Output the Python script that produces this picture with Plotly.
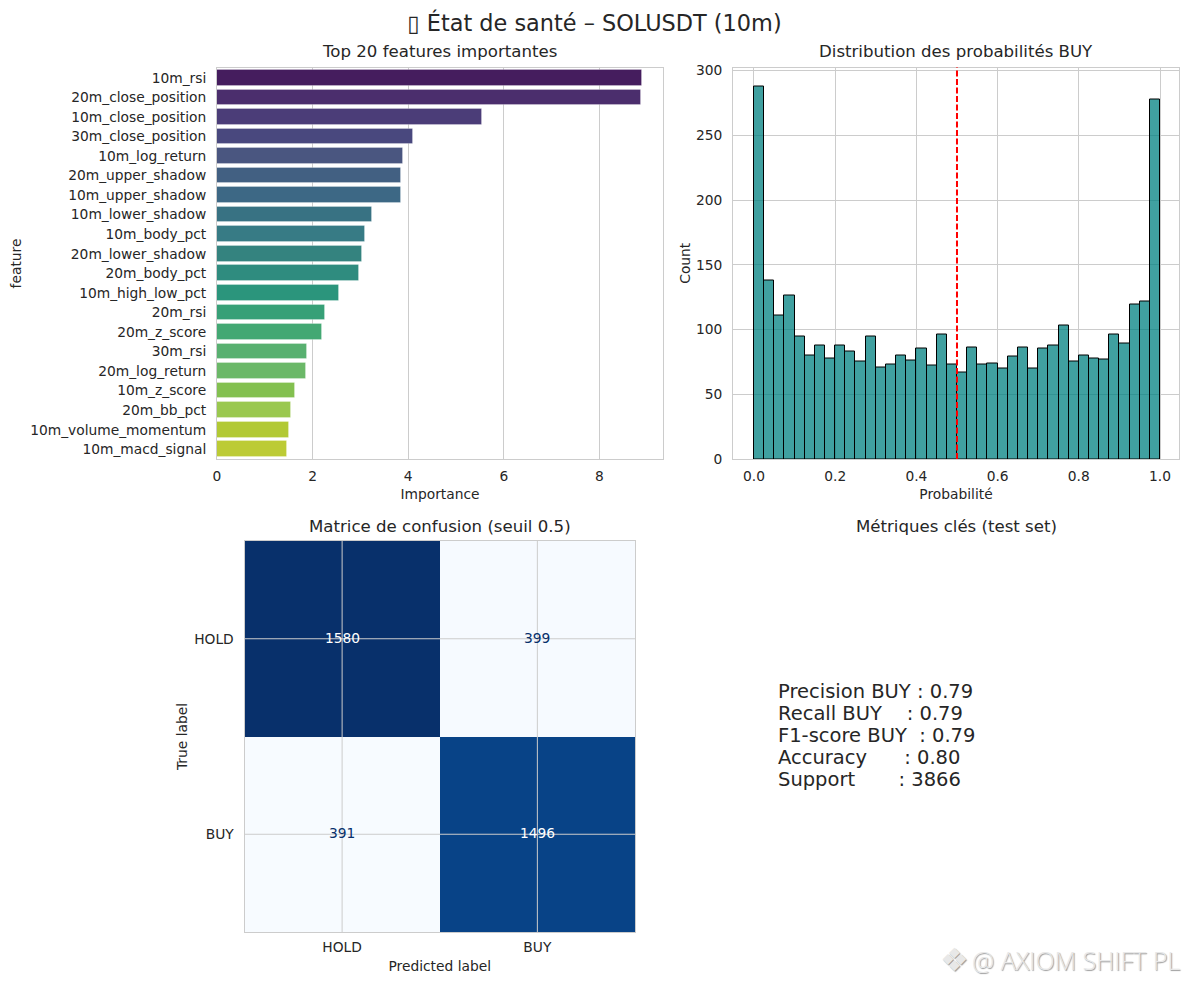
import plotly.graph_objects as go

W = 1189
H = 985

features = ['10m_rsi', '20m_close_position', '10m_close_position', '30m_close_position',
            '10m_log_return', '20m_upper_shadow', '10m_upper_shadow', '10m_lower_shadow',
            '10m_body_pct', '20m_lower_shadow', '20m_body_pct', '10m_high_low_pct',
            '20m_rsi', '20m_z_score', '30m_rsi', '20m_log_return', '10m_z_score',
            '20m_bb_pct', '10m_volume_momentum', '10m_macd_signal']
importance = [8.89, 8.87, 5.54, 4.10, 3.89, 3.85, 3.85, 3.24, 3.10, 3.03,
              2.97, 2.55, 2.26, 2.20, 1.88, 1.86, 1.63, 1.55, 1.51, 1.46]
bar_colors = ['#451d5e', '#4b2e6d', '#4b3d78', '#49487e', '#4a5680', '#426082', '#3d6885',
              '#387283', '#377b85', '#34837f', '#2f8c7f', '#2b957c', '#37a077', '#43a873',
              '#58b070', '#6bb868', '#83c050', '#9ac84f', '#b2c934', '#bccb35']

hist_counts = [288, 138, 111, 126, 95, 80, 88, 78, 88, 83,
               75, 95, 71, 73, 80, 76, 85, 72, 96, 73,
               67, 86, 73, 74, 70, 79, 86, 70, 85, 88,
               103, 75, 80, 78, 77, 96, 89, 119, 122, 278]

cm_labels = ['HOLD', 'BUY']
cm_values = [[1580, 399], [391, 1496]]

metrics = ['Precision BUY : 0.79', 'Recall BUY    : 0.79', 'F1-score BUY  : 0.79',
           'Accuracy      : 0.80', 'Support       : 3866']

FONT = 'DejaVu Sans'
INK = '#262626'
GRID = '#cccccc'
TICK = 13.8


def dom_x(a, b):
    return [a / W, b / W]


def dom_y(top, bottom):
    return [1 - bottom / H, 1 - top / H]


def axis(**kw):
    base = dict(showline=True, linecolor=GRID, linewidth=1, mirror=True, gridcolor=GRID,
                gridwidth=1, zeroline=False, ticks='', ticklabelstandoff=4,
                tickfont=dict(family=FONT, size=TICK, color=INK), automargin=False)
    base.update(kw)
    return base


def axis_title(text, standoff):
    return dict(text=text, standoff=standoff, font=dict(family=FONT, size=TICK, color=INK))


fig = go.Figure()

fig.add_trace(go.Bar(x=importance, y=features, orientation='h', width=0.8, showlegend=False,
                     marker=dict(color=bar_colors, line=dict(color='rgba(255,255,255,0.25)', width=1)),
                     xaxis='x', yaxis='y'))

fig.add_trace(go.Bar(x0=0.0125, dx=0.025, y=hist_counts, width=0.025, showlegend=False,
                     marker=dict(color='rgba(0,128,128,0.75)', line=dict(color='black', width=1)),
                     xaxis='x2', yaxis='y2'))

fig.add_trace(go.Heatmap(z=cm_values, x=[0, 1], y=[0, 1], colorscale='Blues', showscale=False,
                         xaxis='x3', yaxis='y3'))

fig.update_layout(
    width=W, height=H, autosize=False,
    margin=dict(l=0, r=0, t=0, b=0),
    paper_bgcolor='white', plot_bgcolor='white',
    font=dict(family=FONT, color=INK),
    title=dict(text='\u25af État de santé – SOLUSDT (10m)', x=0.5, xanchor='center',
               y=1 - 23 / H, yanchor='middle', font=dict(family=FONT, size=22.4, color=INK)),
    xaxis=axis(domain=dom_x(217, 663), anchor='y', range=[0, 9.33], dtick=2,
               title=axis_title('Importance', 6)),
    yaxis=axis(domain=dom_y(68, 459), anchor='x', showgrid=False, autorange=False, range=[19.5, -0.5],
               tickmode='array', tickvals=features, ticktext=features, ticklabelstandoff=7,
               title=axis_title('feature', 5)),
    xaxis2=axis(domain=dom_x(733, 1179), anchor='y2', range=[-0.0517, 1.0468], dtick=0.2,
                tickformat='.1f', title=axis_title('Probabilité', 6)),
    yaxis2=axis(domain=dom_y(67.5, 459), anchor='x2', range=[0, 302.4], dtick=50, ticklabelstandoff=7,
                title=axis_title('Count', 2)),
    xaxis3=axis(domain=dom_x(244.5, 635), anchor='y3', range=[-0.5, 1.5], showgrid=False,
                tickmode='array', tickvals=[0, 1], ticktext=cm_labels, ticklabelstandoff=2,
                title=axis_title('Predicted label', 7)),
    yaxis3=axis(domain=dom_y(541, 932), anchor='x3', range=[1.5, -0.5], showgrid=False,
                tickmode='array', tickvals=[0, 1], ticktext=cm_labels, ticklabelstandoff=7,
                title=axis_title('True label', 3)),
    bargap=0,
)

# probability threshold
fig.add_shape(type='line', xref='x2', yref='paper', x0=0.5, x1=0.5,
              y0=dom_y(67.5, 459)[0], y1=dom_y(67.5, 459)[1],
              line=dict(color='red', width=2, dash='6px,2.5px'))

# seaborn style grid sits on top of the matrix
for k in range(2):
    fig.add_shape(type='line', xref='x3', yref='y3', x0=k, x1=k, y0=-0.5, y1=1.5,
                  line=dict(color=GRID, width=1))
    fig.add_shape(type='line', xref='x3', yref='y3', x0=-0.5, x1=1.5, y0=k, y1=k,
                  line=dict(color=GRID, width=1))

for i, row in enumerate(cm_values):
    for j, val in enumerate(row):
        fig.add_annotation(x=j, y=i, xref='x3', yref='y3', text=str(val), showarrow=False, yshift=1,
                           font=dict(family=FONT, size=TICK, color='white' if val > 1000 else '#08306b'))

subtitles = [('Top 20 features importantes', 440, 52), ('Distribution des probabilités BUY', 956, 52),
             ('Matrice de confusion (seuil 0.5)', 440, 526), ('Métriques clés (test set)', 956, 526)]
for text, px, py in subtitles:
    fig.add_annotation(x=px / W, y=1 - py / H, xref='paper', yref='paper', text=text, showarrow=False,
                       xanchor='center', yanchor='middle', font=dict(family=FONT, size=16.6, color=INK))

for k, line in enumerate(metrics):
    fig.add_annotation(x=778 / W, y=1 - (691 + 22 * k) / H, xref='paper', yref='paper', text=line,
                       showarrow=False, xanchor='left', yanchor='middle', xshift=-2,
                       font=dict(family=FONT, size=19.5, color=INK))

# watermark
fig.add_annotation(x=1182 / W, y=1 - 960 / H, xref='paper', yref='paper', text='@ AXIOM SHIFT PL',
                   showarrow=False, xanchor='right', yanchor='middle',
                   font=dict(family='Open Sans', size=25, color='#e8e8e8', weight=300,
                             shadow='1px 1px 1px #999999'))
fig.add_annotation(x=954 / W, y=1 - 960 / H, xref='paper', yref='paper', text='\u2756',
                   showarrow=False, xanchor='center', yanchor='middle',
                   font=dict(family=FONT, size=32, color='#e8e8e8', shadow='1px 1px 1px #999999'))

fig.write_html("out.html", config=dict(displayModeBar=False),
               post_script="document.body.style.margin='0';")
